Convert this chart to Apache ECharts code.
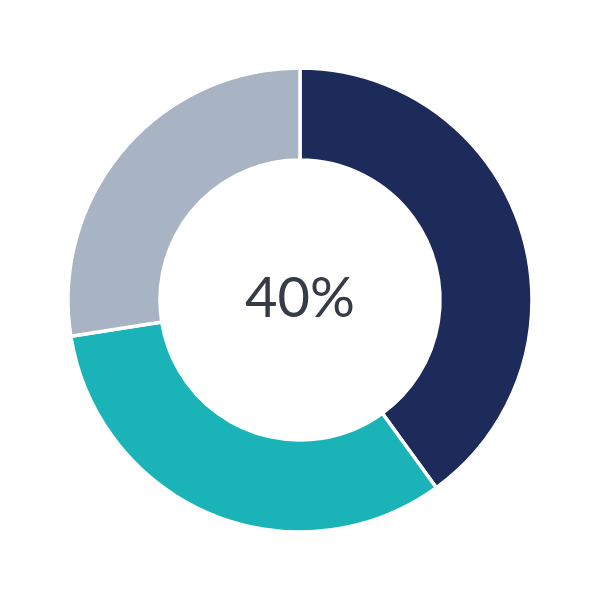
<!DOCTYPE html>
<html>
<head>
<meta charset="utf-8">
<script src="https://cdn.jsdelivr.net/npm/echarts@6/dist/echarts.min.js"></script>
<style>
  html, body { margin: 0; padding: 0; background: #fff; }
  #donut { width: 600px; height: 600px; }
</style>
</head>
<body>
<div id="donut"></div>
<script>
// slice data, clockwise from top
let sliceNames = ["A", "B", "C"];
let sliceValues = [40, 32.5, 27.5];
let sliceColors = ["#1c2b5a", "#1ab4b8", "#a8b3c3"];
let centerLabel = "40%";

let donutDom = document.getElementById("donut");
let donutChart = echarts.init(donutDom);

let pieData = sliceNames.map((name, i) => ({
    name: name,
    value: sliceValues[i],
    itemStyle: { color: sliceColors[i] }
}));

donutChart.setOption({
    animation: false,
    title: {
        text: centerLabel,
        left: "center",
        top: 266,
        textStyle: {
            fontFamily: "Lato",
            fontWeight: 400,
            fontSize: 56,
            color: "#353c45"
        }
    },
    series: [{
        type: "pie",
        center: [300, 300],
        radius: [140, 232],
        startAngle: 90,
        clockwise: true,
        label: { show: false },
        labelLine: { show: false },
        emphasis: { disabled: true },
        itemStyle: { borderColor: "#fff", borderWidth: 3.5 },
        data: pieData
    }]
});
</script>
</body>
</html>
